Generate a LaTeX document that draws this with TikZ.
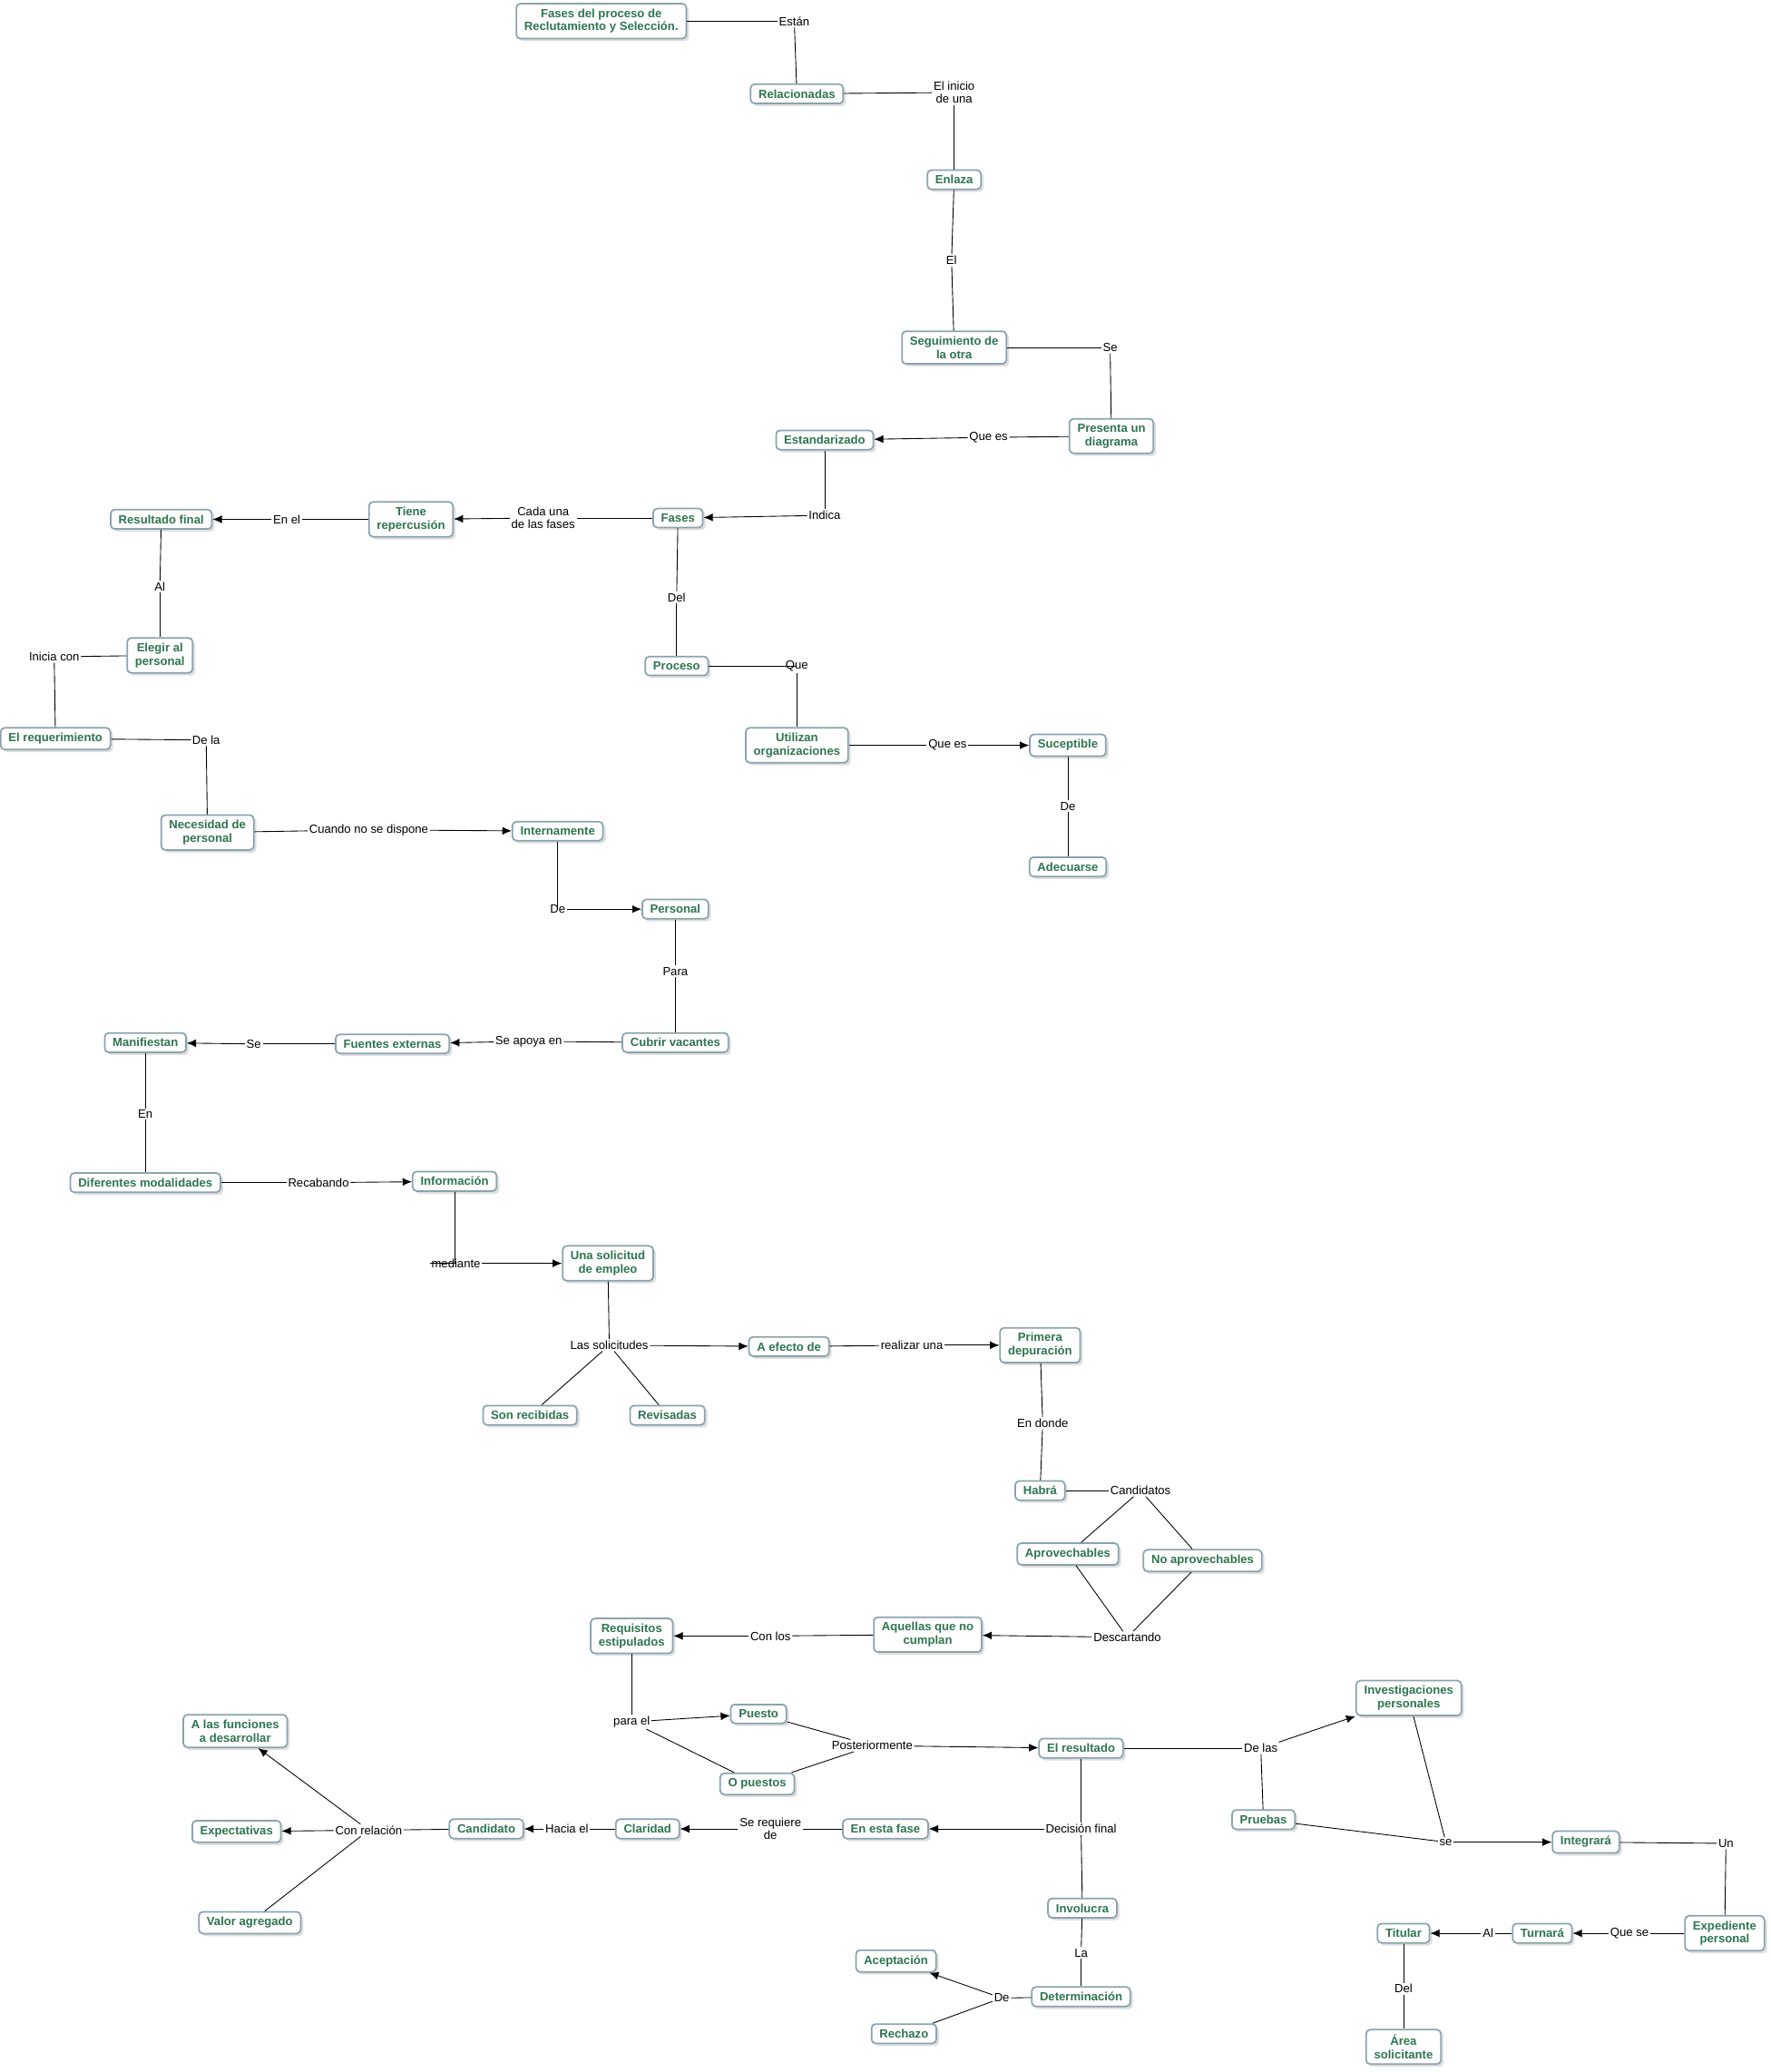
\documentclass[tikz,border=0pt]{standalone}
\usepackage{fontspec}
\setmainfont{Liberation Sans}
\usetikzlibrary{arrows.meta,shadows}
\definecolor{cgreen}{HTML}{2E7550}
\definecolor{cborder}{HTML}{8AA3AE}
\tikzset{
  concept/.style={draw=cborder,line width=1.2pt,rounded corners=3pt,fill=white,
    text=cgreen,font=\fontsize{9}{10}\selectfont\bfseries,align=center,
    inner xsep=6pt,inner ysep=4pt,drop shadow={shadow xshift=2pt,shadow yshift=-2pt,fill=black!25}},
  link/.style={fill=white,font=\fontsize{9}{10}\selectfont,align=center,inner sep=1pt},
  arr/.style={-{Latex[length=7pt,width=6pt]}},
}
\begin{document}
\begin{tikzpicture}[x=1pt,y=-1pt,line width=0.6pt]
  \useasboundingbox (0,0) rectangle (1340,1568);
  % concepts
  \node[concept] (fases0) at (455,16) {Fases del proceso de\\Reclutamiento y Selección.};
  \node[concept] (relac)  at (603,71)  {Relacionadas};
  \node[concept] (enlaza) at (722,136) {Enlaza};
  \node[concept] (segui)  at (722,263) {Seguimiento de\\la otra};
  \node[concept] (presen) at (841,330) {Presenta un\\diagrama};
  \node[concept] (estand) at (624,333) {Estandarizado};
  \node[concept] (fases)  at (513,392) {Fases};
  \node[concept] (tiene)  at (311,393) {Tiene\\repercusión};
  \node[concept] (resul)  at (122,393) {Resultado final};
  \node[concept] (elegir) at (121,496) {Elegir al\\personal};
  \node[concept] (requer) at (42,559)  {El requerimiento};
  \node[concept] (necesi) at (157,630) {Necesidad de\\personal};
  \node[concept] (intern) at (422,629) {Internamente};
  \node[concept] (person) at (511,688) {Personal};
  \node[concept] (cubrir) at (511,789) {Cubrir vacantes};
  \node[concept] (fuente) at (297,790) {Fuentes externas};
  \node[concept] (manif)  at (110,789) {Manifiestan};
  \node[concept] (difer)  at (110,895) {Diferentes modalidades};
  \node[concept] (inform) at (344,894) {Información};
  \node[concept] (solic)  at (460,956) {Una solicitud\\de empleo};
  \node[concept] (efecto) at (597,1019) {A efecto de};
  \node[concept] (recib)  at (401,1071) {Son recibidas};
  \node[concept] (revis)  at (505,1071) {Revisadas};
  \node[concept] (primer) at (787,1018) {Primera\\depuración};
  \node[concept] (habra)  at (787,1128) {Habrá};
  \node[concept] (aprov)  at (808,1176) {Aprovechables};
  \node[concept] (noapr)  at (910,1181) {No aprovechables};
  \node[concept] (aquel)  at (702,1237) {Aquellas que no\\cumplan};
  \node[concept] (requis) at (478,1238) {Requisitos\\estipulados};
  \node[concept] (puesto) at (574,1297) {Puesto};
  \node[concept] (opues)  at (573,1350) {O puestos};
  \node[concept] (result) at (818,1323) {El resultado};
  \node[concept] (invest) at (1066,1285) {Investigaciones\\personales};
  \node[concept] (prueb)  at (956,1377) {Pruebas};
  \node[concept] (integr) at (1200,1394) {Integrará};
  \node[concept] (exped)  at (1305,1463) {Expediente\\personal};
  \node[concept] (turna)  at (1167,1463) {Turnará};
  \node[concept] (titul)  at (1062,1463) {Titular};
  \node[concept] (area)   at (1062,1549) {Área\\solicitante};
  \node[concept] (estafa) at (670,1384) {En esta fase};
  \node[concept] (clarid) at (490,1384) {Claridad};
  \node[concept] (candid) at (368,1384) {Candidato};
  \node[concept] (funcio) at (178,1310) {A las funciones\\a desarrollar};
  \node[concept] (expect) at (179,1386) {Expectativas};
  \node[concept] (valor)  at (189,1455) {Valor agregado};
  \node[concept] (involu) at (819,1444) {Involucra};
  \node[concept] (determ) at (818,1511) {Determinación};
  \node[concept] (acept)  at (678,1484) {Aceptación};
  \node[concept] (rechaz) at (684,1539) {Rechazo};
  \node[concept] (proces) at (512,504) {Proceso};
  \node[concept] (utiliz) at (603,564) {Utilizan\\organizaciones};
  \node[concept] (sucep)  at (808,564) {Suceptible};
  \node[concept] (adecu)  at (808,656) {Adecuarse};
  % linking phrases
  \node[link] (lEstan)  at (601,16)  {Están};
  \node[link] (lInicio) at (722,70)  {El inicio\\de una};
  \node[link] (lEl)     at (720,197) {El};
  \node[link] (lSe)     at (840,263) {Se};
  \node[link] (lQuees)  at (748,331) {Que es};
  \node[link] (lIndica) at (624,390) {Indica};
  \node[link] (lCada)   at (411,392) {Cada una\\de las fases};
  \node[link] (lEnel)   at (217,393) {En el};
  \node[link] (lAl)     at (121,444) {Al};
  \node[link] (lInicia) at (41,497)  {Inicia con};
  \node[link] (lDela)   at (156,560) {De la};
  \node[link] (lCuando) at (279,628) {Cuando no se dispone};
  \node[link] (lDe)     at (422,688) {De};
  \node[link] (lPara)   at (511,735) {Para};
  \node[link] (lApoya)  at (400,788) {Se apoya en};
  \node[link] (lSe2)    at (192,790) {Se};
  \node[link] (lEn)     at (110,843) {En};
  \node[link] (lRecab)  at (241,895) {Recabando};
  \node[link] (lMedia)  at (345,956) {mediante};
  \node[link] (lLas)    at (461,1018) {Las solicitudes};
  \node[link] (lReal)   at (690,1018) {realizar una};
  \node[link] (lDonde)  at (789,1077) {En donde};
  \node[link] (lCand)   at (863,1128) {Candidatos};
  \node[link] (lDesc)   at (853,1239) {Descartando};
  \node[link] (lConlos) at (583,1238) {Con los};
  \node[link] (lParael) at (478,1303) {para el};
  \node[link] (lPoster) at (660,1321) {Posteriormente};
  \node[link] (lDelas)  at (954,1323) {De las};
  \node[link] (lse)     at (1094,1394) {se};
  \node[link] (lUn)     at (1306,1395) {Un};
  \node[link] (lQuese)  at (1233,1463) {Que se};
  \node[link] (lAl2)    at (1126,1463) {Al};
  \node[link] (lDel)    at (1062,1505) {Del};
  \node[link] (lDecis)  at (818,1384) {Decisión final};
  \node[link] (lRequi)  at (583,1384) {Se requiere\\de};
  \node[link] (lHacia)  at (429,1384) {Hacia el};
  \node[link] (lConrel) at (279,1385) {Con relación};
  \node[link] (lLa)     at (818,1478) {La};
  \node[link] (lDe2)    at (758,1512) {De};
  \node[link] (lDel2)   at (512,452) {Del};
  \node[link] (lQue)    at (603,504) {Que};
  \node[link] (lQuees2) at (717,564) {Que es};
  \node[link] (lDe3)    at (808,610) {De};
  % connectors
  \draw (fases0) -- (lEstan);   \draw (lEstan) -- (relac);
  \draw (relac) -- (lInicio);   \draw (lInicio) -- (enlaza);
  \draw (enlaza) -- (lEl);      \draw (lEl) -- (segui);
  \draw (segui) -- (lSe);       \draw (lSe) -- (presen);
  \draw (presen) -- (lQuees);   \draw[arr] (lQuees) -- (estand);
  \draw (estand) -- (lIndica);  \draw[arr] (lIndica) -- (fases);
  \draw (fases) -- (lCada);     \draw[arr] (lCada) -- (tiene);
  \draw (tiene) -- (lEnel);     \draw[arr] (lEnel) -- (resul);
  \draw (resul) -- (lAl);       \draw (lAl) -- (elegir);
  \draw (elegir) -- (lInicia);  \draw (lInicia) -- (requer);
  \draw (requer) -- (lDela);    \draw (lDela) -- (necesi);
  \draw (necesi) -- (lCuando);  \draw[arr] (lCuando) -- (intern);
  \draw (intern) |- (lDe);      \draw[arr] (lDe) -- (person);
  \draw (person) -- (lPara);    \draw (lPara) -- (cubrir);
  \draw (cubrir) -- (lApoya);   \draw[arr] (lApoya) -- (fuente);
  \draw (fuente) -- (lSe2);     \draw[arr] (lSe2) -- (manif);
  \draw (manif) -- (lEn);       \draw (lEn) -- (difer);
  \draw (difer) -- (lRecab);    \draw[arr] (lRecab) -- (inform);
  \draw (inform) |- (lMedia);   \draw[arr] (lMedia) -- (solic);
  \draw (solic) -- (lLas);      \draw[arr] (lLas) -- (efecto);
  \draw (lLas) -- (recib);      \draw (lLas) -- (revis);
  \draw (efecto) -- (lReal);    \draw[arr] (lReal) -- (primer);
  \draw (primer) -- (lDonde);   \draw (lDonde) -- (habra);
  \draw (habra) -- (lCand);     \draw (lCand) -- (aprov);
  \draw (lCand) -- (noapr);
  \draw (aprov) -- (lDesc);     \draw (noapr) -- (lDesc);
  \draw[arr] (lDesc) -- (aquel);
  \draw (aquel) -- (lConlos);   \draw[arr] (lConlos) -- (requis);
  \draw (requis) -- (lParael);  \draw[arr] (lParael) -- (puesto);
  \draw (lParael) -- (opues);
  \draw (puesto) -- (lPoster);  \draw (opues) -- (lPoster);
  \draw[arr] (lPoster) -- (result);
  \draw (result) -- (lDelas);   \draw[arr] (lDelas) -- (invest);
  \draw (lDelas) -- (prueb);
  \draw (invest) -- (lse);      \draw (prueb) -- (lse);
  \draw[arr] (lse) -- (integr);
  \draw (integr) -- (lUn);      \draw (lUn) -- (exped);
  \draw (exped) -- (lQuese);    \draw[arr] (lQuese) -- (turna);
  \draw (turna) -- (lAl2);      \draw[arr] (lAl2) -- (titul);
  \draw (titul) -- (lDel);      \draw (lDel) -- (area);
  \draw (result) -- (lDecis);   \draw[arr] (lDecis) -- (estafa);
  \draw (lDecis) -- (involu);
  \draw (estafa) -- (lRequi);   \draw[arr] (lRequi) -- (clarid);
  \draw (clarid) -- (lHacia);   \draw[arr] (lHacia) -- (candid);
  \draw (candid) -- (lConrel);  \draw[arr] (lConrel) -- (expect);
  \draw[arr] (lConrel) -- (funcio);
  \draw (lConrel) -- (valor);
  \draw (involu) -- (lLa);      \draw (lLa) -- (determ);
  \draw (determ) -- (lDe2);     \draw[arr] (lDe2) -- (acept);
  \draw (lDe2) -- (rechaz);
  \draw (fases) -- (lDel2);     \draw (lDel2) -- (proces);
  \draw (proces) -| (lQue);     \draw (lQue) -- (utiliz);
  \draw (utiliz) -- (lQuees2);  \draw[arr] (lQuees2) -- (sucep);
  \draw (sucep) -- (lDe3);      \draw (lDe3) -- (adecu);
\end{tikzpicture}
\end{document}
